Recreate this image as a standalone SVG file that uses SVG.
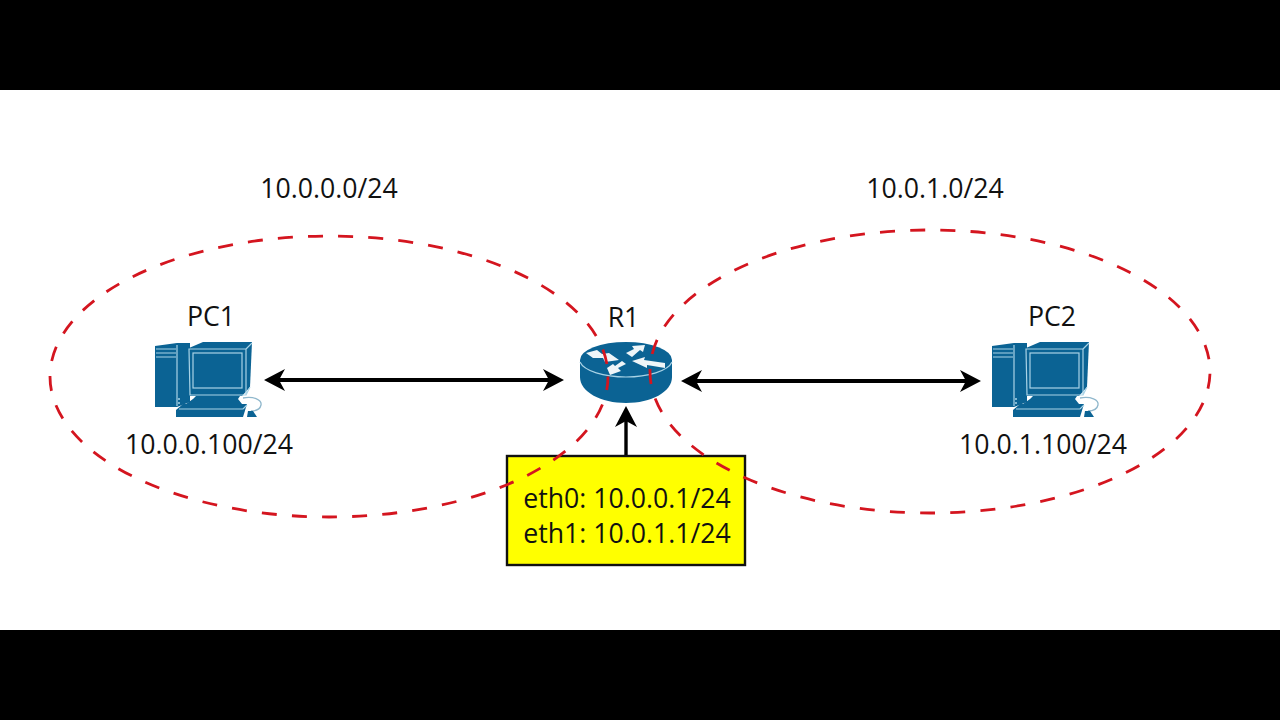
<svg xmlns="http://www.w3.org/2000/svg" width="1280" height="720" viewBox="0 0 1280 720">
<style>
text{font-family:"Open Sans","Noto Sans","Liberation Sans",sans-serif;font-size:26.7px;fill:#111;text-anchor:middle}
.zone{fill:none;stroke:#d4151f;stroke-width:2.8}
.link{stroke:#000;stroke-width:4;fill:none;marker-start:url(#h);marker-end:url(#h)}
.pb{fill:#0b6394}
.pl{fill:none;stroke:#a9d3e6;stroke-width:1.2}
.ra{fill:#eef5f8}
</style>
<defs>
<marker id="h" viewBox="0 0 21 22" refX="16" refY="11" markerWidth="21" markerHeight="22" markerUnits="userSpaceOnUse" orient="auto-start-reverse"><path d="M0 0L21 11L0 22L6 11Z" fill="#000"/></marker>
<g id="pc">
<path class="pb" d="M155 346L177 343L190 343V402L177 407H155Z"/>
<path class="pl" d="M156 349H176M156 353H176M156 357H176M177 345V406"/>
<circle cx="179" cy="399" r="1" fill="#a9d3e6"/>
<circle cx="179" cy="403" r="1" fill="#a9d3e6"/>
<path class="pb" d="M189 348L203 342H252L250 387L242 396H190Z"/>
<path class="pl" d="M189 349H246V395H190ZM246 349L252 343M246 395L250 387"/>
<rect x="193" y="353" width="49" height="35" class="pb" stroke="#a9d3e6" stroke-width="1.2"/>
<path class="pb" d="M196 396H240L238 399L242 404H186L193 399Z"/>
<path class="pb" d="M183 404H247L243 417H176V410Z"/>
<path class="pl" d="M179 409H243L247 405"/>
<path d="M243 398C254 396 262 400 261 405C260 410 255 411 251 411" fill="none" stroke="#8fb7cc" stroke-width="1.3"/>
<path class="pb" d="M248 411H253L257 417H247Z"/>
</g>
</defs>
<rect width="1280" height="720" fill="#fff"/>
<rect width="1280" height="90" fill="#000"/>
<rect y="630" width="1280" height="90" fill="#000"/>
<g id="connectors">
<path class="link" d="M269 380H559"/>
<path class="link" d="M686 381H976"/>
<path d="M626 456V411" stroke="#000" stroke-width="3.4" fill="none" marker-end="url(#h)"/>
</g>
<g id="PC1"><use href="#pc"/><text x="211" y="326">PC1</text><text x="209" y="454">10.0.0.100/24</text></g>
<g id="PC2"><use href="#pc" x="837"/><text x="1052" y="326">PC2</text><text x="1043" y="454">10.0.1.100/24</text></g>
<g id="R1">
<path class="pb" d="M580 360V377C580 392 601 403 626 403C651 403 672 392 672 377V360Z"/>
<ellipse cx="626" cy="360" rx="46" ry="18" class="pb"/>
<path d="M580 362C584 371 604 377 626 377C648 377 668 371 672 362" fill="none" stroke="#a9d3e6" stroke-width="1.2"/>
<path class="ra" d="M586 353L597 350L602 354L609 353L619 360L605 362L603 358L593 358Z"/>
<path class="ra" d="M626 353L634 349L632 346L645 345L643 352L640 350L632 357Z"/>
<path class="ra" d="M632 361L645 357L644 360L665 363V368L647 365V368Z"/>
<path class="ra" d="M607 368L610 375L621 371L618 368L626 364L622 361L615 366L613 364Z"/>
<text x="623.500" y="327">R1</text>
</g>
<g id="box">
<rect x="507" y="456" width="238" height="109" fill="#ff0" stroke="#111" stroke-width="2.4"/>
<text x="627" y="507.500">eth0: 10.0.0.1/24</text>
<text x="627" y="543">eth1: 10.0.1.1/24</text>
</g>
<g id="zones">
<ellipse class="zone" cx="329" cy="376.500" rx="279" ry="140.500" stroke-dasharray="15 15.17" stroke-dashoffset="1.500"/>
<ellipse class="zone" cx="930" cy="371.500" rx="280" ry="141.500" stroke-dasharray="15 15.23" stroke-dashoffset="-2.300"/>
<text x="329" y="198">10.0.0.0/24</text>
<text x="935" y="198">10.0.1.0/24</text>
</g>
</svg>
